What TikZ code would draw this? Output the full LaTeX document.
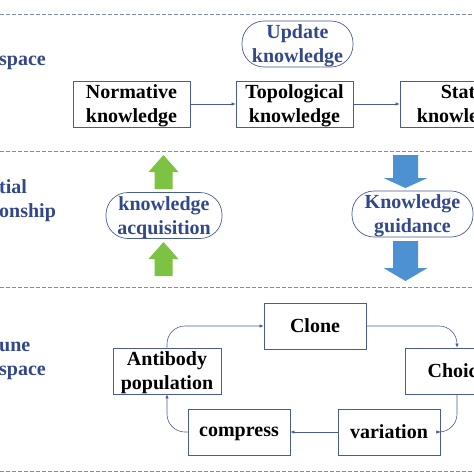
\documentclass[tikz,border=0pt]{standalone}
\usepackage{fontspec}
\setmainfont{Liberation Serif}
\usetikzlibrary{arrows.meta}
\definecolor{inkblue}{HTML}{33488A}
\definecolor{edgeblue}{HTML}{4A5C98}
\definecolor{dashgray}{HTML}{7E8AAB}
\definecolor{leafgreen}{HTML}{7DC242}
\definecolor{skyblue}{HTML}{4E91D3}
\begin{document}
\begin{tikzpicture}[x=1pt,y=-1pt,
  font=\fontsize{20}{24}\selectfont\bfseries,
  box/.style={draw=edgeblue,line width=.8pt,minimum height=46pt,inner sep=0pt,text depth=-1pt,align=center},
  pill/.style={draw=edgeblue,line width=.7pt,rounded corners=22pt,minimum height=46pt,inner sep=0pt,text depth=-1pt,align=center,text=inkblue},
  side/.style={anchor=west,align=left,inner sep=0pt,text=inkblue},
  link/.style={draw=edgeblue,line width=.6pt,-{Latex[length=4pt,width=3.5pt]}},
  band/.style={dashgray,line width=.7pt,dash pattern=on 4pt off 2pt}]
\useasboundingbox (0,0) rectangle (474,474);
\clip (0,0) rectangle (474,474);
% section borders
\foreach \y in {14,151,287,471}
  \draw[band] (0,\y) -- (474,\y);
% side labels
\node[side] (lbl1) at (-1,63) {space};
\node[side] (lbl2) at (-1,201) {tial\\onship};
\node[side] (lbl3) at (-1,361) {une\\space};
% upper space
\node[pill,minimum width=111pt] (upd) at (297.5,44) {Update\\knowledge};
\node[box,minimum width=117pt] (norm) at (131.5,104) {Normative\\knowledge};
\node[box,minimum width=117pt] (topo) at (294.5,104) {Topological\\knowledge};
\node[box,minimum width=125pt] (stat) at (462.5,104) {Stat\phantom{e}\\knowle\phantom{dge}};
\draw[link] (norm) -- (topo);
\draw[link] (topo) -- (stat);
% middle band
\node[pill,minimum width=116pt] (acq) at (164,215.5) {knowledge\\acquisition};
\node[pill,minimum width=121pt] (guide) at (412.5,214) {Knowledge\\guidance};
\foreach \t in {155,242}
  \fill[leafgreen] (163.5,\t) -- ++(15,17) -- ++(-6,0) -- ++(0,17) -- ++(-18,0) -- ++(0,-17) -- ++(-6,0) -- cycle;
\foreach \a/\b/\c in {155/178/188,241/268/281}
  \fill[skyblue] (393,\a) -- (418,\a) -- (418,\b) -- (427.5,\b) -- (405.5,\c) -- (383.5,\b) -- (393,\b) -- cycle;
% lower space
\node[box,minimum width=102pt] (clone) at (315,326) {Clone};
\node[box,minimum width=108pt] (anti) at (167,371) {Antibody\\population};
\node[box,minimum width=104pt] (choic) at (457,371) {Choic\phantom{e}};
\node[box,minimum width=102pt] (comp) at (239,432) {compress};
\node[box,minimum width=102pt] (vari) at (389,432) {variation};
\draw[link,rounded corners=18pt] (anti.north) |- (clone.west);
\draw[link,rounded corners=18pt] (clone.east) -| (choic.north);
\draw[link,rounded corners=18pt] (choic.south) |- (vari.east);
\draw[link] (vari) -- (comp);
\draw[link,rounded corners=18pt] (comp.west) -| (anti.south);
\end{tikzpicture}
\end{document}
